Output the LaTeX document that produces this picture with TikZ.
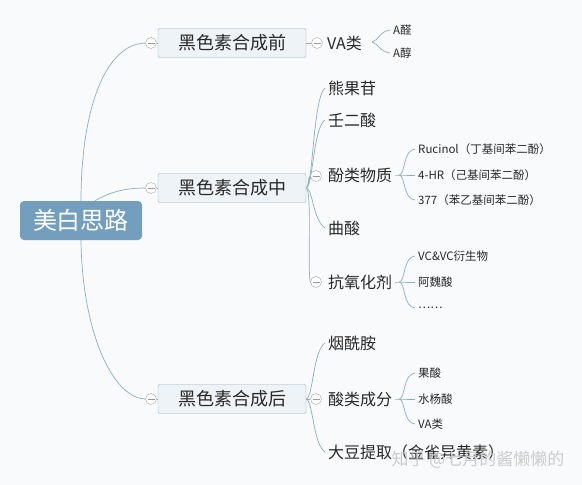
\documentclass[tikz,border=0pt]{standalone}
\usepackage{fontspec}
\setmainfont{Noto Sans CJK SC}
\usetikzlibrary{backgrounds}

\definecolor{rootblue}{RGB}{115,158,190}
\definecolor{boxfill}{RGB}{238,243,247}
\definecolor{boxline}{RGB}{150,175,195}
\definecolor{linkblue}{RGB}{140,172,196}
\definecolor{paper}{RGB}{249,250,251}
\definecolor{inkgray}{RGB}{40,40,40}

\tikzset{
  root/.style={fill=rootblue, rounded corners=4pt, text=white, minimum width=122pt, minimum height=39pt, font=\fontsize{24}{28}\selectfont},
  branch/.style={draw=boxline, fill=boxfill, rounded corners=2pt, minimum width=148pt, minimum height=29pt, text=inkgray, font=\fontsize{18}{22}\selectfont},
  topic/.style={anchor=west, inner sep=3pt, text=inkgray, font=\fontsize{16}{20}\selectfont},
  subtopic/.style={anchor=west, inner sep=3pt, text=inkgray, font=\fontsize{11.5}{14}\selectfont},
  fold/.style={circle, draw=gray!70, fill=white, minimum size=11pt, inner sep=0pt,
    path picture={\draw[gray!80] ([xshift=-3.5pt]path picture bounding box.center) -- ([xshift=3.5pt]path picture bounding box.center);}},
  link/.style={draw=linkblue, line width=0.7pt},
}

\begin{document}
\begin{tikzpicture}[x=1pt,y=-1pt]
\useasboundingbox (0,0) rectangle (582,485);

% main topic and the three stages
\node[root] (root) at (81,220.5) {美白思路};
\node[branch] (pre) at (232,43) {黑色素合成前};
\node[branch] (mid) at (232,188) {黑色素合成中};
\node[branch] (post) at (232,399) {黑色素合成后};
\node[fold] (fpre) at (151,43) {};
\node[fold] (fmid) at (151,188) {};
\node[fold] (fpost) at (151,399) {};

% before
\node[fold] (fva) at (317,43) {};
\node[topic] (va) at (324,43) {VA类};
\node[subtopic] (va1) at (390,30) {A醛};
\node[subtopic] (va2) at (390,53) {A醇};
\coordinate (tva) at (372,42);

% during
\node[topic] (m1) at (325,88) {熊果苷};
\node[topic] (m2) at (325,120) {壬二酸};
\node[fold] (fm3) at (316,176) {};
\node[topic] (m3) at (325,175) {酚类物质};
\node[topic] (m4) at (325,228) {曲酸};
\node[fold] (fm5) at (316,282) {};
\node[topic] (m5) at (325,282) {抗氧化剂};
\node[subtopic] (m31) at (415,149) {Rucinol（丁基间苯二酚）};
\node[subtopic] (m32) at (415,175) {4-HR（己基间苯二酚）};
\node[subtopic] (m33) at (415,200) {377（苯乙基间苯二酚）};
\node[subtopic] (m51) at (415,256) {VC\&VC衍生物};
\node[subtopic] (m52) at (415,282) {阿魏酸};
\node[subtopic] (m53) at (415,308) {……};
\coordinate (tm3) at ([xshift=4pt]m3.east);
\coordinate (tm5) at ([xshift=4pt]m5.east);

% after
\node[topic] (p1) at (325,343) {烟酰胺};
\node[fold] (fp2) at (316,399) {};
\node[topic] (p2) at (325,399) {酸类成分};
\node[topic] (p3) at (325,452) {大豆提取（金雀异黄素）};
\node[subtopic] (p21) at (415,373) {果酸};
\node[subtopic] (p22) at (415,399) {水杨酸};
\node[subtopic] (p23) at (415,424) {VA类};
\coordinate (tp2) at ([xshift=4pt]p2.east);

\node[anchor=west, text=gray!40, font=\fontsize{17}{20}\selectfont] (mark) at (388,460) {知乎 @七月的酱懒懒的};

\begin{pgfonlayer}{background}
\fill[paper] (0,0) rectangle (582,485);
\draw[link] (root.north) .. controls (81,110) and (105,44) .. (fpre.west);
\draw[link] ([xshift=14pt]root.north) .. controls (110,192) and (125,188) .. (fmid.west);
\draw[link] (root.south) .. controls (82,330) and (112,398) .. (fpost.west);
\draw[link] (fpre.east) -- (pre.west);
\draw[link] (fmid.east) -- (mid.west);
\draw[link] (fpost.east) -- (post.west);

\draw[link] (pre.east) -- (fva.west);
\draw[link] (tva) .. controls +(6,-1) and +(-10,1) .. (va1.west);
\draw[link] (tva) .. controls +(6,1) and +(-10,-1) .. (va2.west);

\draw[link] (mid.east) .. controls +(7,-2) and +(-12,10) .. (m1.west);
\draw[link] (mid.east) .. controls +(7,-2) and +(-12,8) .. (m2.west);
\draw[link] (mid.east) .. controls +(3,-1) and +(-3,1) .. (fm3.west);
\draw[link] (mid.east) .. controls +(7,2) and +(-12,-8) .. (m4.west);
\draw[link] (mid.east) .. controls +(6,2) and +(-3,-12) .. (fm5.west);

\draw[link] (m3.east) -- (tm3) -- (m32.west);
\draw[link] (tm3) .. controls +(6,-1) and +(-12,1) .. (m31.west);
\draw[link] (tm3) .. controls +(6,1) and +(-12,-1) .. (m33.west);
\draw[link] (m5.east) -- (tm5) -- (m52.west);
\draw[link] (tm5) .. controls +(6,-1) and +(-12,1) .. (m51.west);
\draw[link] (tm5) .. controls +(6,1) and +(-12,-1) .. (m53.west);

\draw[link] (post.east) .. controls +(7,-2) and +(-12,8) .. (p1.west);
\draw[link] (post.east) -- (fp2.west);
\draw[link] (post.east) .. controls +(7,2) and +(-12,-8) .. (p3.west);
\draw[link] (p2.east) -- (tp2) -- (p22.west);
\draw[link] (tp2) .. controls +(6,-1) and +(-12,1) .. (p21.west);
\draw[link] (tp2) .. controls +(6,1) and +(-12,-1) .. (p23.west);
\end{pgfonlayer}
\end{tikzpicture}
\end{document}
